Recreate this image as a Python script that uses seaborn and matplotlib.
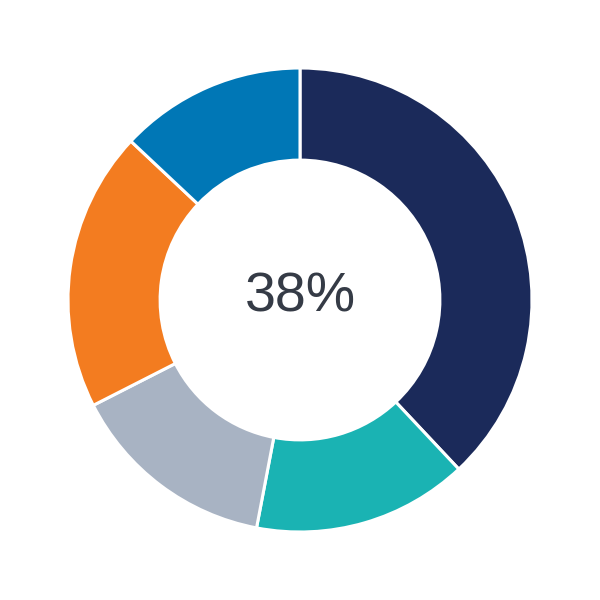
import matplotlib

matplotlib.use("Agg")

import matplotlib.pyplot as plt  # noqa: E402
import seaborn as sns  # noqa: E402

# segment shares, clockwise from 12 o'clock
labels = ["Navy", "Teal", "Gray", "Orange", "Blue"]
shares = [38, 15, 14.5, 19.5, 13]
colors = ["#1b2a5a", "#1ab3b3", "#a8b3c3", "#f37c20", "#0077b6"]
center_text = "38%"

sns.set_theme(style="white")
plt.rcParams["font.family"] = ["Liberation Sans", "DejaVu Sans"]

fig = plt.figure(figsize=(6, 6), dpi=100)
ax = fig.add_axes([0, 0, 1, 1])
ax.pie(shares, colors=colors, startangle=90, counterclock=False,
       radius=1.0, wedgeprops={"width": 0.397, "edgecolor": "white", "linewidth": 2.2})
ax.text(0, 0.01, center_text, ha="center", va="center", fontsize=40, color="#353b46")
lim = 300 / 232
ax.set_xlim(-lim, lim)
ax.set_ylim(-lim, lim)
ax.set_aspect("equal")
ax.axis("off")

fig.savefig("out.png", dpi=100, facecolor="white")
plt.close(fig)
